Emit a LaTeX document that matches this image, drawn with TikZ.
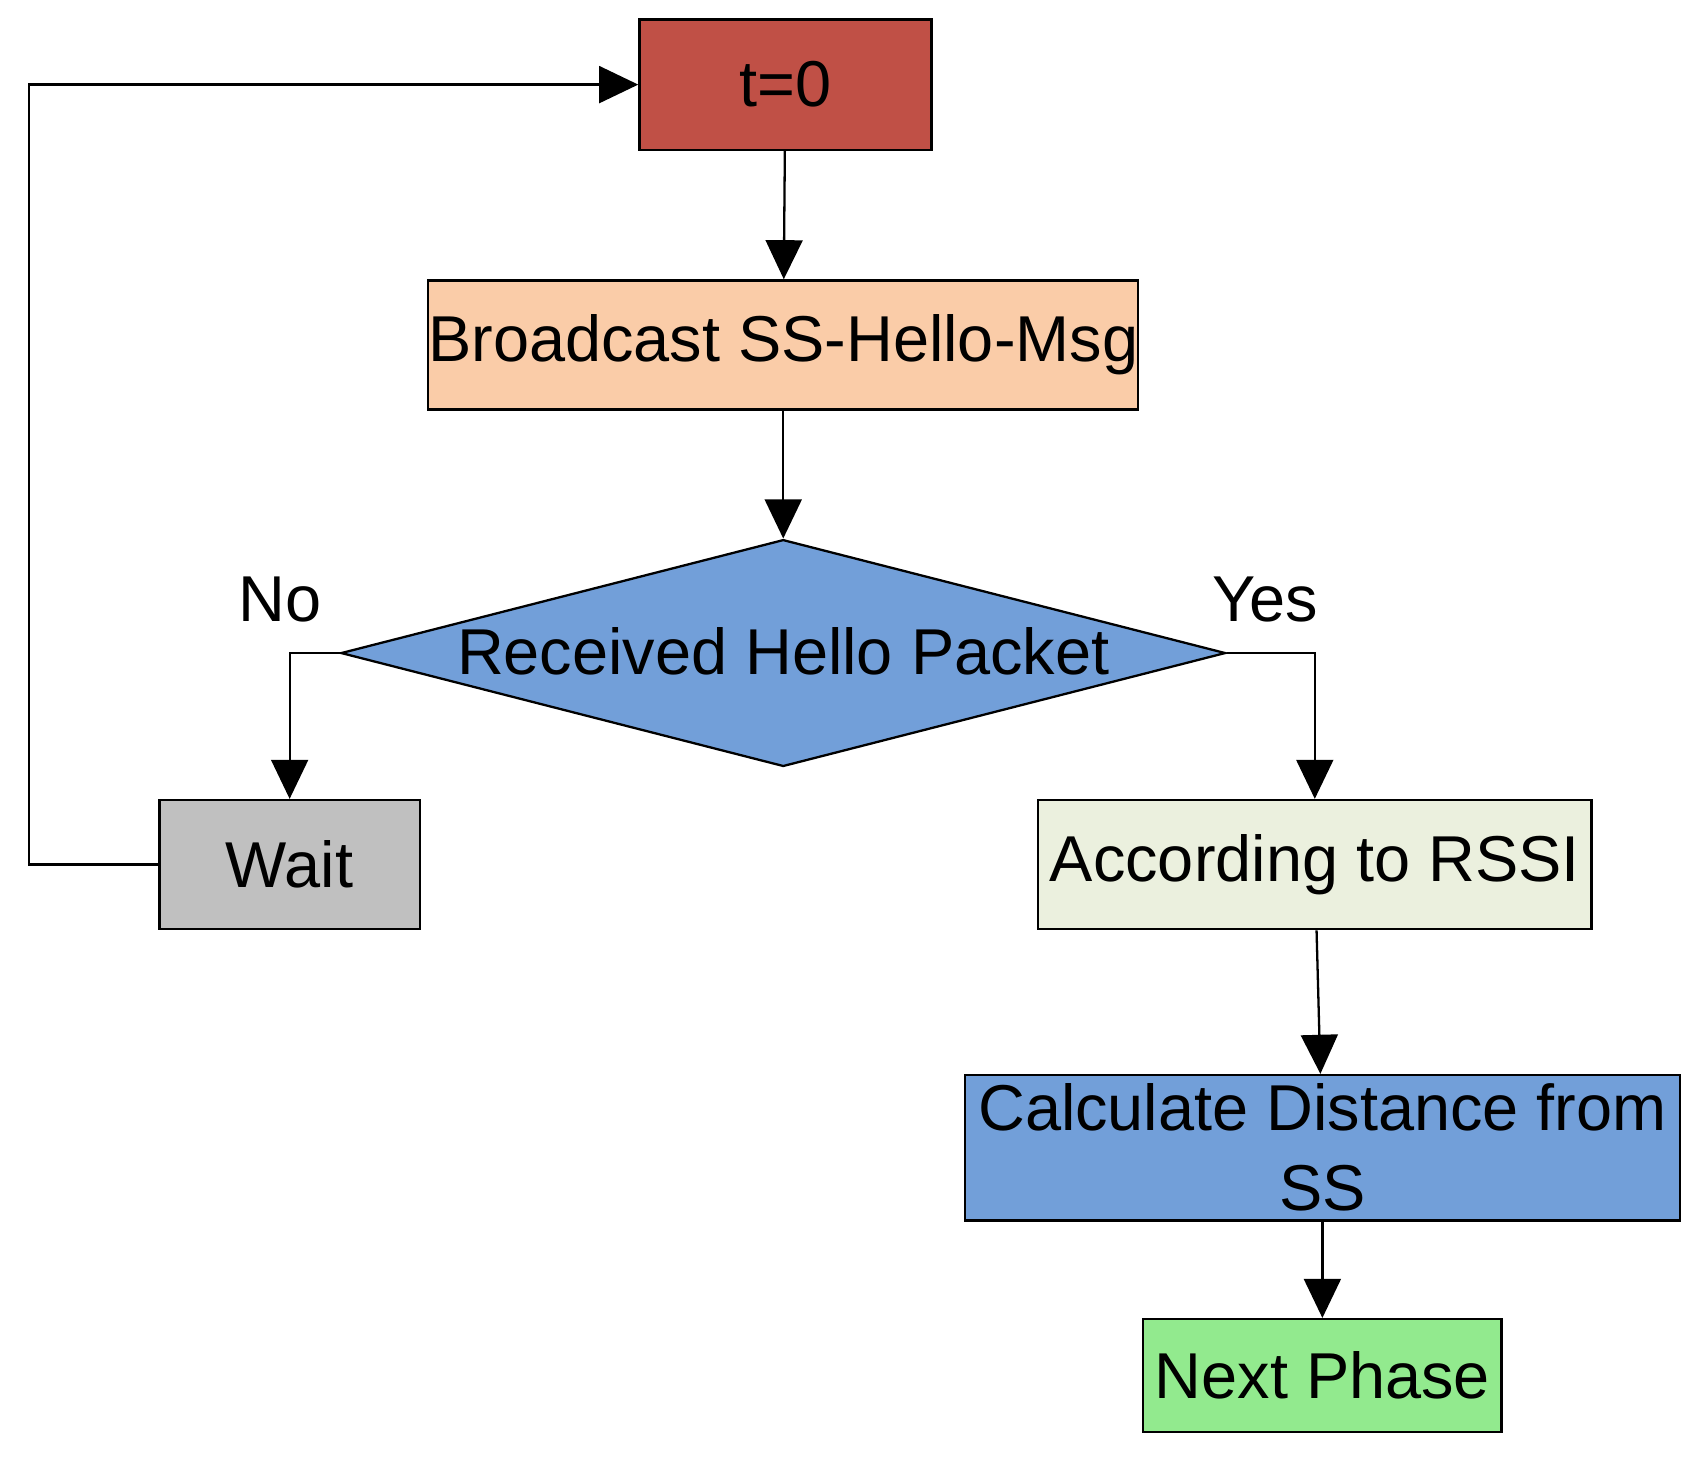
\documentclass[tikz,border=0pt]{standalone}
\usepackage{fontspec}
\setmainfont{Liberation Sans}
\usetikzlibrary{arrows.meta,shapes.geometric}
\definecolor{cRed}{RGB}{192,80,70}
\definecolor{cPeach}{RGB}{250,204,168}
\definecolor{cBlue}{RGB}{114,159,217}
\definecolor{cGrey}{RGB}{192,192,192}
\definecolor{cPale}{RGB}{235,240,222}
\definecolor{cGreen}{RGB}{146,234,142}
\begin{document}
\begin{tikzpicture}[x=0.01cm,y=-0.01cm,
   box/.style={draw,line width=0.6pt,inner sep=0pt,font=\fontsize{17}{21}\selectfont,align=center},
   arr/.style={-{Triangle[length=0.36cm,width=0.34cm]},line width=0.6pt},
   lbl/.style={font=\fontsize{17}{21}\selectfont}]
   \useasboundingbox (0,0) rectangle (1568,1346);
   \node[box,fill=cRed,minimum width=2.69cm,minimum height=1.2cm] (start) at (724,78) {t=0};
   \node[box,fill=cPeach,minimum width=6.49cm,minimum height=1.19cm] (bcast) at (722,318) {Broadcast SS-Hello-Msg};
   \node[box,diamond,fill=cBlue,minimum width=8.15cm,minimum height=2.09cm,aspect=3.9] (recv) at (722,602) {};
   \node[lbl] at (722,600) {Received Hello Packet};
   \node[box,fill=cGrey,minimum width=2.4cm,minimum height=1.19cm] (wait) at (267,797) {Wait};
   \node[box,fill=cPale,minimum width=5.1cm,minimum height=1.19cm] (rssi) at (1212,797) {According to RSSI};
   \node[box,fill=cBlue,minimum width=6.59cm,minimum height=1.34cm] (calc) at (1219,1058) {Calculate Distance from\\SS};
   \node[box,fill=cGreen,minimum width=3.3cm,minimum height=1.04cm] (next) at (1219,1268) {Next Phase};
   \node[lbl] (no) at (258,553) {No};
   \node[lbl] (yes) at (1166,553) {Yes};
   \coordinate (loopA) at (27,797);
   \coordinate (loopB) at (27,78);
   \draw[arr] (start) -- (bcast);
   \draw[arr] (bcast) -- (recv);
   \draw[arr] (recv.west) -| (wait);
   \draw[arr] (recv.east) -| (rssi);
   \draw[arr] (rssi) -- (calc);
   \draw[arr] (calc) -- (next);
   \draw[arr] (wait.west) -- (loopA) -- (loopB) -- (start.west);
\end{tikzpicture}
\end{document}
